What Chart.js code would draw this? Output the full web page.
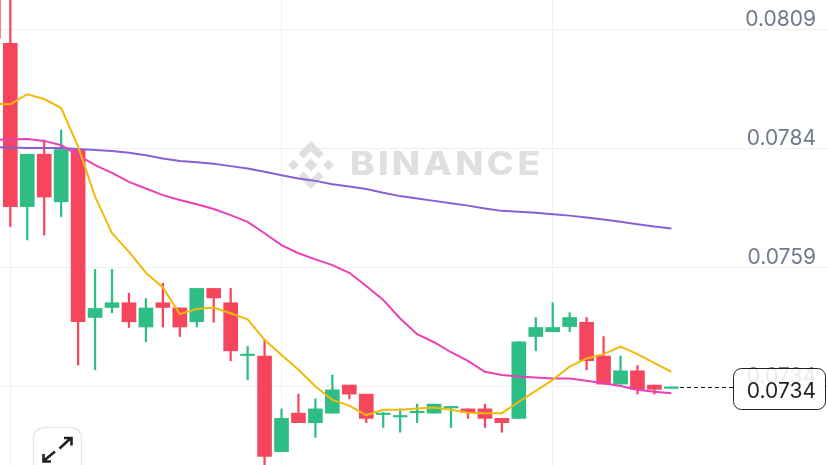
<!DOCTYPE html>
<html><head><meta charset="utf-8">
<script src="https://cdn.jsdelivr.net/npm/chart.js@4"></script>
<style>html,body{margin:0;padding:0;background:#fff;overflow:hidden}</style>
</head><body>
<canvas id="c" width="828" height="465"></canvas>
<script>
// ---- data ----
const candleIndex = [-1,0,1,2,3,4,5,6,7,8,9,10,11,12,13,14,15,16,17,18,19,20,21,22,23,24,25,26,27,28,29,30,31,32,33,34,35,36,37,38,39];
const opens  = [0.0820,0.08062,0.07719,0.07829,0.07729,0.07838,0.07486,0.07507,0.07517,0.07466,0.07517,0.07506,0.07477,0.07547,0.07517,0.07406,0.07405,0.07204,0.07285,0.07265,0.07285,0.07344,0.07325,0.07282,0.07277,0.07286,0.07285,0.07296,0.07294,0.07294,0.07274,0.07274,0.07446,0.07456,0.07467,0.07476,0.07405,0.07346,0.07374,0.07344,0.07337];
const highs  = [0.0822,0.0818,0.07829,0.07859,0.07880,0.07838,0.07587,0.07587,0.07537,0.07526,0.07558,0.07506,0.07547,0.07547,0.07547,0.07425,0.07439,0.07294,0.07325,0.07315,0.07365,0.07344,0.07325,0.07287,0.07294,0.07304,0.07304,0.07298,0.07294,0.07304,0.07274,0.07435,0.07486,0.07517,0.07496,0.07486,0.07446,0.07405,0.07385,0.07344,0.07340];
const lows   = [0.0806,0.07677,0.07649,0.07659,0.07698,0.07386,0.07376,0.07496,0.07465,0.07435,0.07466,0.07446,0.07466,0.07476,0.07395,0.07355,0.07160,0.07204,0.07265,0.07234,0.07285,0.07315,0.07265,0.07255,0.07245,0.07265,0.07285,0.07255,0.07274,0.07255,0.07245,0.07274,0.07416,0.07456,0.07456,0.07376,0.07346,0.07346,0.07325,0.07325,0.07337];
const closes = [0.08073,0.07719,0.07829,0.07739,0.07839,0.07477,0.07505,0.07517,0.07477,0.07506,0.07507,0.07466,0.07547,0.07527,0.07416,0.07409,0.07194,0.07274,0.07265,0.07294,0.07334,0.07325,0.07274,0.07284,0.07279,0.07288,0.07304,0.07298,0.07287,0.07274,0.07265,0.07435,0.07465,0.07465,0.07486,0.07395,0.07346,0.07374,0.07335,0.07335,0.07340];
const ma7  = [0.07935,0.07934,0.07955,0.07945,0.07926,0.07845,0.07740,0.07663,0.07624,0.07580,0.07549,0.07493,0.07504,0.07507,0.07495,0.07482,0.07439,0.07407,0.07376,0.07341,0.07313,0.07301,0.07281,0.07292,0.07292,0.07295,0.07297,0.07292,0.07286,0.07285,0.07285,0.07309,0.07332,0.07355,0.07383,0.07400,0.07409,0.07425,0.07409,0.07390,0.07372];
const ma25 = [0.07859,0.07860,0.07861,0.07857,0.07848,0.07827,0.07806,0.07790,0.07771,0.07757,0.07743,0.07733,0.07724,0.07714,0.07701,0.07687,0.07663,0.07638,0.07621,0.07608,0.07596,0.07580,0.07552,0.07523,0.07484,0.07451,0.07434,0.07413,0.07395,0.07372,0.07365,0.07362,0.07360,0.07358,0.07358,0.07353,0.07348,0.07342,0.07334,0.07330,0.07327];
const ma99 = [0.07844,0.07843,0.07842,0.07842,0.07842,0.07840,0.07838,0.07836,0.07832,0.07827,0.07820,0.07815,0.07812,0.07809,0.07804,0.07799,0.07792,0.07785,0.07778,0.07773,0.07766,0.07761,0.07756,0.07748,0.07741,0.07736,0.07731,0.07726,0.07721,0.07715,0.07710,0.07708,0.07706,0.07703,0.07700,0.07696,0.07692,0.07687,0.07682,0.07677,0.07673];
const yTickValues = [0.0734, 0.0759, 0.0784, 0.0809];
const yTickLabels = ['0.0734', '0.0759', '0.0784', '0.0809'];
const xGridIndex = [0, 16, 32];
const lastPrice = 0.0734;
const lastPriceLabel = '0.0734';
const watermarkText = 'BINANCE';

// ---- styling ----
const GREEN = '#2EBD85', RED = '#F6465D';
const GRID = '#EEF0F1';
const upDown = (ctx) => closes[ctx.dataIndex] >= opens[ctx.dataIndex] ? GREEN : RED;

const wickData = candleIndex.map((x, i) => ({x, y: [lows[i], highs[i]]}));
const bodyData = candleIndex.map((x, i) => ({x, y: [opens[i], closes[i]]}));
const line = (arr) => candleIndex.map((x, i) => ({x, y: arr[i]}));

const overlay = {
  id: 'overlay',
  beforeDatasetsDraw(chart) {
    const c = chart.ctx;
    c.save();
    c.fillStyle = '#DFDFDF';
    // logo
    const cx = 311, cy = 165;
    const dia = (x, y, r) => { c.beginPath(); c.moveTo(x, y - r); c.lineTo(x + r, y); c.lineTo(x, y + r); c.lineTo(x - r, y); c.closePath(); c.fill(); };
    dia(cx, cy, 6.5);
    dia(cx - 17.5, cy, 5.5);
    dia(cx + 17.5, cy, 5.5);
    const chev = (s) => {
      c.beginPath();
      c.moveTo(cx, cy - 24 * s);
      c.lineTo(cx + 12.5, cy - 11.5 * s);
      c.lineTo(cx + 7.5, cy - 6.5 * s);
      c.lineTo(cx, cy - 14 * s);
      c.lineTo(cx - 7.5, cy - 6.5 * s);
      c.lineTo(cx - 12.5, cy - 11.5 * s);
      c.closePath(); c.fill();
    };
    chev(1); chev(-1);
    // text
    c.font = '800 32px Inter';
    c.textAlign = 'left'; c.textBaseline = 'alphabetic';
    c.letterSpacing = '3px';
    const w0 = c.measureText(watermarkText).width - 3;
    const sx = 190 / w0;
    c.translate(350, 175);
    c.scale(sx, 1);
    c.fillText(watermarkText, 0, 0);
    c.restore();
  },
  afterDatasetsDraw(chart) {
    const c = chart.ctx, y = chart.scales.y;
    c.save();
    c.font = '21px Inter';
    c.fillStyle = '#707A8A';
    c.textAlign = 'right'; c.textBaseline = 'alphabetic';
    yTickValues.forEach((v, i) => c.fillText(yTickLabels[i], 816, y.getPixelForValue(v) - 3.5));
    c.restore();
  },
  afterDraw(chart) {
    const c = chart.ctx, ys = chart.scales.y;
    const py = Math.round(ys.getPixelForValue(lastPrice)) + 0.5;
    c.save();
    // dashed last-price line
    c.strokeStyle = '#1E2329'; c.lineWidth = 1; c.setLineDash([4, 3]);
    c.beginPath(); c.moveTo(680, py); c.lineTo(733, py); c.stroke();
    c.setLineDash([]);
    // price box
    c.beginPath(); c.roundRect(733.5, 368.5, 92, 41, 8);
    c.fillStyle = 'rgba(255,255,255,0.85)'; c.fill();
    c.strokeStyle = '#1E2329'; c.stroke();
    c.font = '21px Inter'; c.fillStyle = '#1E2329';
    c.textAlign = 'right'; c.textBaseline = 'alphabetic';
    c.fillText(lastPriceLabel, 816, 398);
    // expand button
    c.beginPath(); c.roundRect(33.5, 427.5, 48, 50, 11);
    c.fillStyle = '#FFFFFF'; c.fill();
    c.strokeStyle = '#E6E8EA'; c.lineWidth = 1.5; c.stroke();
    c.strokeStyle = '#1E2329'; c.lineWidth = 2.6; c.lineCap = 'butt';
    c.beginPath();
    c.moveTo(59.5, 448.5); c.lineTo(71, 438);
    c.moveTo(64, 438); c.lineTo(71.5, 438); c.lineTo(71.5, 445.5);
    c.moveTo(55, 451.5); c.lineTo(43.5, 461);
    c.moveTo(43.5, 454); c.lineTo(43.5, 461.5); c.lineTo(51, 461.5);
    c.stroke();
    c.restore();
  }
};

new Chart(document.getElementById('c'), {
  data: {
    datasets: [
      {type: 'line', label: 'MA(7)', data: line(ma7), borderColor: '#F0B90B', borderWidth: 2, pointRadius: 0, tension: 0, order: 0},
      {type: 'line', label: 'MA(25)', data: line(ma25), borderColor: '#EB40B5', borderWidth: 2, pointRadius: 0, tension: 0, order: 0},
      {type: 'line', label: 'MA(99)', data: line(ma99), borderColor: '#8A5FD6', borderWidth: 2, pointRadius: 0, tension: 0, order: 0},
      {type: 'bar', label: 'body', data: bodyData, backgroundColor: upDown, barThickness: 14, minBarLength: 1.5, grouped: false, order: 1},
      {type: 'bar', label: 'wick', data: wickData, backgroundColor: upDown, barThickness: 1.6, grouped: false, order: 2}
    ]
  },
  options: {
    responsive: false, animation: false, devicePixelRatio: 1,
    layout: {padding: 0},
    plugins: {legend: {display: false}, tooltip: {enabled: false}},
    scales: {
      x: {
        type: 'linear', min: -0.608, max: 48.24, offset: false,
        grid: {color: GRID, lineWidth: 1, drawTicks: false, offset: false},
        border: {display: false}, ticks: {display: false},
        afterBuildTicks: (s) => { s.ticks = xGridIndex.map(v => ({value: v})); }
      },
      y: {
        type: 'linear', position: 'right', min: 0.071761, max: 0.081530,
        grid: {color: GRID, lineWidth: 1, drawTicks: false, offset: false},
        border: {display: false}, ticks: {display: false},
        afterBuildTicks: (s) => { s.ticks = yTickValues.map(v => ({value: v})); }
      }
    }
  },
  plugins: [overlay]
});
</script>
</body></html>
